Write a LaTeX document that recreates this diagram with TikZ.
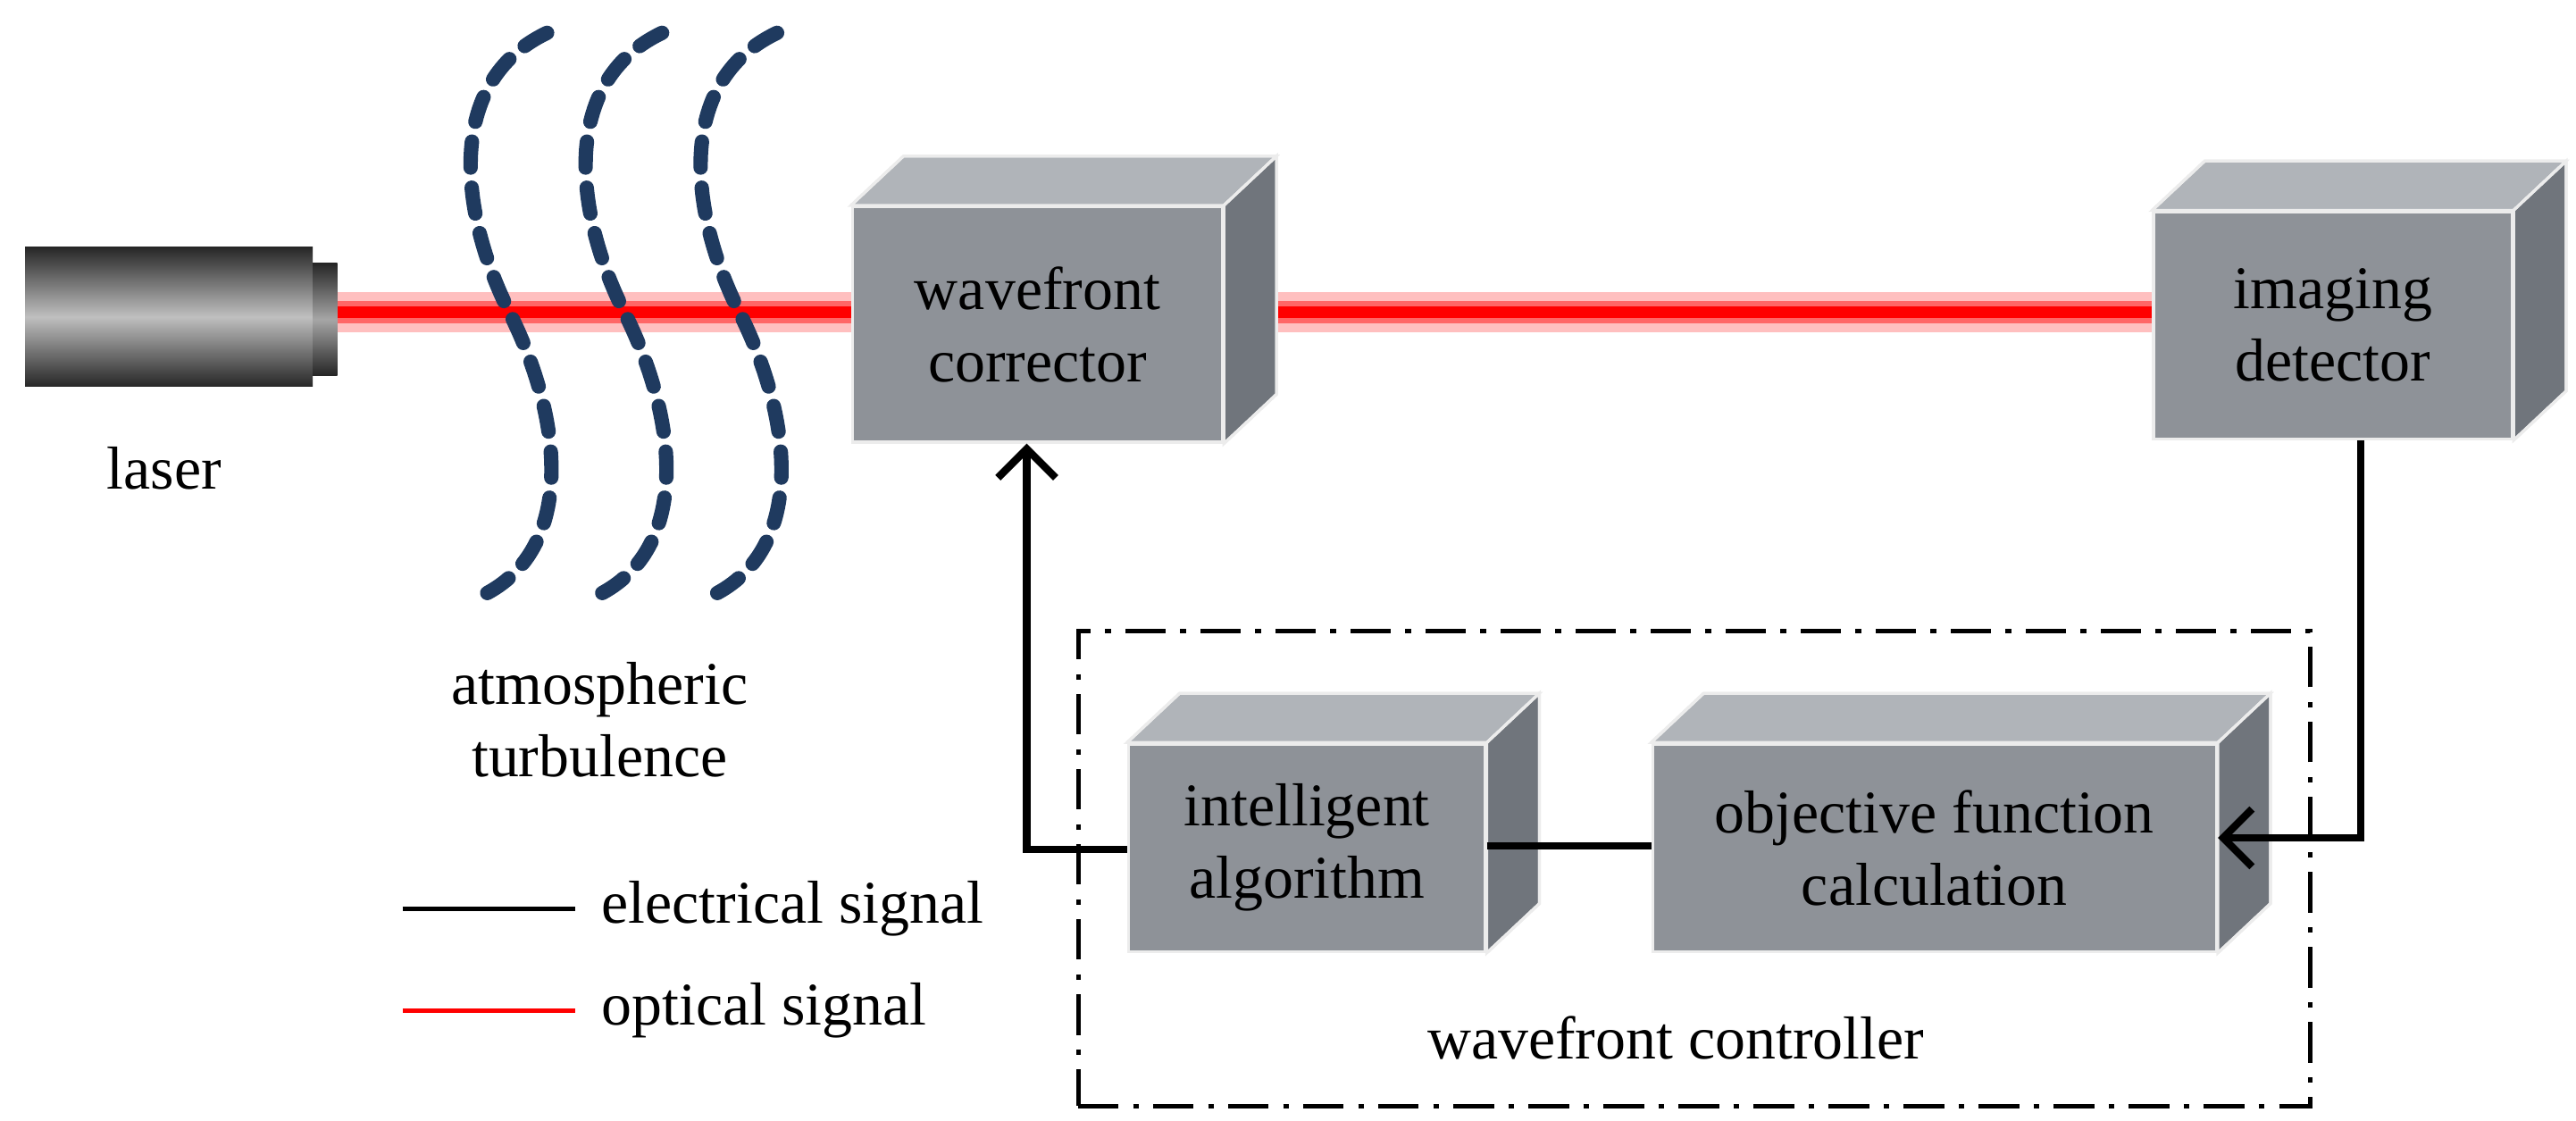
\documentclass[tikz,border=0pt]{standalone}
\usepackage{fontspec}
\setmainfont{Liberation Serif}
\usetikzlibrary{arrows.meta,calc}
\definecolor{front}{HTML}{8E9298}
\definecolor{topc}{HTML}{B0B4B9}
\definecolor{sidec}{HTML}{70757C}
\definecolor{navy}{HTML}{1F3A5F}
\tikzset{
 face/.style={draw=white!85!gray,line width=1pt},
 lbl/.style={font=\fontsize{21}{25}\selectfont,align=center},
 wire/.style={line width=2.6pt,black},
 turb/.style={navy,line width=5pt,dash pattern=on 9pt off 7pt,line cap=round},
}
\newcommand{\mycube}[6]{% name x1 y1 x2 y2 text
 \fill[face,fill=topc] (#2,#3) -- ++(32,-30) -- (#4+32,#3-30) -- (#4,#3) -- cycle;
 \fill[face,fill=sidec] (#4,#3) -- ++(32,-30) -- (#4+32,#5-30) -- (#4,#5) -- cycle;
 \node[face,fill=front,minimum width=(#4-#2)*0.02cm-1pt,minimum height=(#5-#3)*0.02cm-1pt,inner sep=0pt,lbl,anchor=north west] (#1) at (#2,#3) {#6};
 \draw[face] (#2,#3) -- ++(32,-30) -- (#4+32,#3-30) -- (#4+32,#5-30) -- (#4,#5) (#4,#3) -- ++(32,-30);
}
\begin{document}
\begin{tikzpicture}[x=0.02cm,y=-0.02cm]
\useasboundingbox (0,0) rectangle (1568,682);
% beams
\foreach \a/\b in {205/518,775/1310}{
 \draw[red!25,line width=14pt] (\a,190) -- (\b,190);
 \draw[red!60,line width=8pt] (\a,190) -- (\b,190);
 \draw[red,line width=4pt] (\a,190) -- (\b,190);}
% laser
\node[inner sep=0pt,minimum width=175*0.02cm,minimum height=85*0.02cm,anchor=north west,top color=black!85,bottom color=black!85,middle color=black!25] (laser) at (15,150) {};
\node[inner sep=0pt,minimum width=15*0.02cm,minimum height=68*0.02cm,anchor=north west,top color=black!85,bottom color=black!85,middle color=black!35] (cap) at (190,160) {};
\node[lbl] (laserl) at (100,285) {laser};
% turbulence
\foreach \d in {0,70,140}{
 \draw[turb] (333+\d,20) .. controls (270+\d,50) and (280+\d,130) .. (310+\d,190) .. controls (345+\d,260) and (350+\d,340) .. (288+\d,365);}
\node[lbl,align=center] (turbl) at (365,438) {atmospheric\\turbulence};
% boxes
\mycube{wfc}{518}{125}{745}{270}{wavefront\\corrector}
\mycube{det}{1310}{128}{1530}{268}{imaging\\detector}
\mycube{ia}{686}{452}{905}{580}{intelligent\\algorithm}
\mycube{ofc}{1005}{452}{1350}{580}{objective function\\calculation}
% controller
\node[draw,line width=1.5pt,dash pattern=on 14pt off 5pt on 2pt off 5pt,minimum width=750*0.02cm,minimum height=289*0.02cm,anchor=north west,inner sep=0pt] (ctrl) at (655,383) {};
\node[lbl] (ctrll) at (1020,632) {wavefront controller};
% wires
\coordinate (c1) at (1437,510);
\coordinate (c2) at (625,517);
\draw[wire,-{Straight Barb[length=10pt,width=20pt]}] (det.south -| c1) -- (c1) -- (ofc.east |- c1);
\draw[wire,-{Straight Barb[length=10pt,width=20pt]}] (ia.west |- c2) -- (c2) -- (wfc.south -| c2);
\draw[wire] (ia.east |- 0,515) -- (ofc.west |- 0,515);
% legend
\coordinate (l1) at (245,553); \coordinate (l2) at (350,553);
\coordinate (l3) at (245,615); \coordinate (l4) at (350,615);
\draw[line width=1.5pt] (l1) -- (l2);
\draw[red,line width=1.5pt] (l3) -- (l4);
\node[lbl,anchor=west] (le) at (360,553) {electrical signal};
\node[lbl,anchor=west] (lo) at (360,615) {optical signal};
\end{tikzpicture}
\end{document}
